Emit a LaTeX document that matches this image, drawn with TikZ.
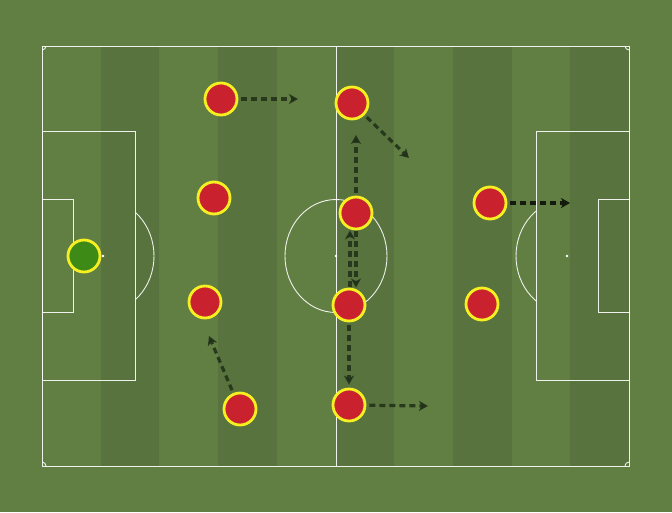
\documentclass[tikz,border=0pt]{standalone}
\usetikzlibrary{arrows.meta,shadows}
\definecolor{grassA}{RGB}{98,127,67}
\definecolor{grassB}{RGB}{88,115,62}
\definecolor{pred}{RGB}{201,34,46}
\definecolor{pyel}{RGB}{246,240,34}
\definecolor{pgreen}{RGB}{62,138,22}
\definecolor{arrowc}{RGB}{34,50,26}
\definecolor{arrowk}{RGB}{20,26,14}
\begin{document}
\begin{tikzpicture}[x=1pt,y=-1pt,
  pline/.style={draw=white,draw opacity=0.9,line width=0.9pt},
  player/.style={circle,fill=pred,draw=pyel,line width=2.8pt,minimum size=32pt,inner sep=0pt,
    drop shadow={shadow xshift=0.4pt,shadow yshift=-1.2pt,opacity=0.35}},
  keeper/.style={player,fill=pgreen},
  run/.style={draw=arrowc,draw opacity=0.9,line width=3.2pt,dash pattern=on 6pt off 4pt,
    -{Stealth[length=9pt,width=10pt,inset=2.5pt]},shorten <=3pt},
  runk/.style={run,draw=arrowk,draw opacity=1}]
\useasboundingbox (0,0) rectangle (672,512);
\fill[grassA] (0,0) rectangle (672,512);
\foreach \i in {1,3,5,7,9}
  \fill[grassB] ({42+\i*58.7},46) rectangle ({42+(\i+1)*58.7},466);
% pitch markings
\draw[pline] (42,46) rectangle (629,466);
\draw[pline] (336,46) -- (336,466);
\draw[pline] (336,256) ellipse[x radius=51,y radius=56.5];
\fill[white] (336,256) circle[radius=1.4];
\draw[pline] (42,131) rectangle (135,380);
\draw[pline] (42,199) rectangle (73,312);
\fill[white] (103,256) circle[radius=1.4];
\draw[pline] (536,131) rectangle (629,380);
\draw[pline] (598,199) rectangle (629,312);
\fill[white] (567,256) circle[radius=1.4];
\begin{scope}
  \clip (135,0) rectangle (300,512);
  \draw[pline] (103,256) ellipse[x radius=51,y radius=56.5];
\end{scope}
\begin{scope}
  \clip (400,0) rectangle (536,512);
  \draw[pline] (567,256) ellipse[x radius=51,y radius=56.5];
\end{scope}
\begin{scope}
  \clip (42,46) rectangle (629,466);
  \draw[pline] (42,46) circle[radius=4];
  \draw[pline] (629,46) circle[radius=4];
  \draw[pline] (42,466) circle[radius=4];
  \draw[pline] (629,466) circle[radius=4];
\end{scope}
% players
\node[keeper] (gk) at (84,256) {};
\node[player] (p1) at (221,99) {};
\node[player] (p2) at (352,103) {};
\node[player] (p3) at (214,198) {};
\node[player] (p4) at (356,213) {};
\node[player] (p5) at (490,203) {};
\node[player] (p6) at (205,302) {};
\node[player] (p7) at (349,305) {};
\node[player] (p8) at (482,304) {};
\node[player] (p9) at (240,409) {};
\node[player] (p10) at (349,405) {};
% run targets
\coordinate (t1) at (298,99);
\coordinate (t2) at (409,158);
\coordinate (t4) at (356,135);
\coordinate (t5) at (570,203);
\coordinate (t9) at (209,336);
\coordinate (t10) at (428,406);
% runs
\draw[run] (p1) -- (t1);
\draw[run] (p2) -- (t2);
\draw[run] (p4) -- (t4);
\draw[runk] (p5) -- (t5);
\draw[run] (p9) -- (t9);
\draw[run] (p10) -- (t10);
\draw[run,shorten <=1pt] ([xshift=1pt]p7.north) -- ([xshift=-6pt]p4.south);
\draw[run,shorten <=1pt] (p4.south) -- ([xshift=7pt]p7.north);
\draw[run,shorten >=3pt] (p7) -- (p10);
\end{tikzpicture}
\end{document}
